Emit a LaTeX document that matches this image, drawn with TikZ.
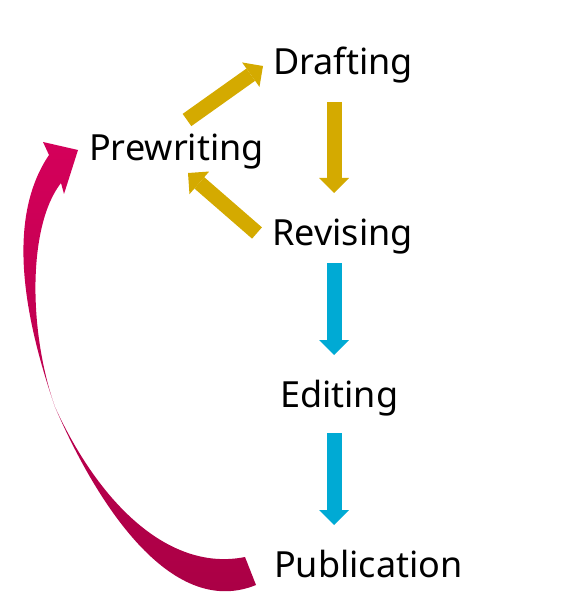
\documentclass[tikz,border=0pt]{standalone}
\usepackage{fontspec}
\setmainfont{Noto Sans}
\usetikzlibrary{arrows.meta}
\definecolor{gold}{HTML}{D4AA00}
\definecolor{sky}{HTML}{00AAD4}
\definecolor{rose}{HTML}{D4005A}
\definecolor{wine}{HTML}{A80044}
\tikzset{stage/.style = {anchor=base west, inner sep=0pt, font=\fontsize{36}{40}\selectfont},
         block/.style = {line width=15pt, -{Triangle[length=15pt, width=30pt, line width=0pt]}}}

\begin{document}
\begin{tikzpicture}[x=1pt, y=-1pt]
    \useasboundingbox (0,0) rectangle (586,609);
    \node [stage] (pre) at (89,161) {Prewriting};
    \node [stage] (draft) at (273,75) {Drafting};
    \node [stage] (revise) at (272,246) {Revising};
    \node [stage] (edit) at (280,407) {Editing};
    \node [stage] (pub) at (274,577) {Publication};

    \draw [block, gold] ([shift={(98,-41)}]pre.base west) -- ([shift={(-10,-9)}]draft.base west);
    \draw [block, gold] ([shift={(61,27)}]draft.base west) -- ([shift={(62,-53)}]revise.base west);
    \draw [block, gold] ([shift={(-15,-13)}]revise.base west) -- ([shift={(99,12)}]pre.base west);
    \draw [block, sky] ([shift={(62,17)}]revise.base west) -- ([shift={(54,-52)}]edit.base west);
    \draw [block, sky] ([shift={(54,26)}]edit.base west) -- ([shift={(60,-52)}]pub.base west);

    \shade [top color=rose, bottom color=wine]
        (256,585) .. controls (170,620) and (95,500) .. (55,407)
        .. controls (25,320) and (5,220) .. (49,155)
        -- (43,142) -- (78,150) -- (64,194) -- (61,183)
        .. controls (28,225) and (28,330) .. (55,407)
        .. controls (100,505) and (170,572) .. (245,557) -- cycle;
\end{tikzpicture}
\end{document}
